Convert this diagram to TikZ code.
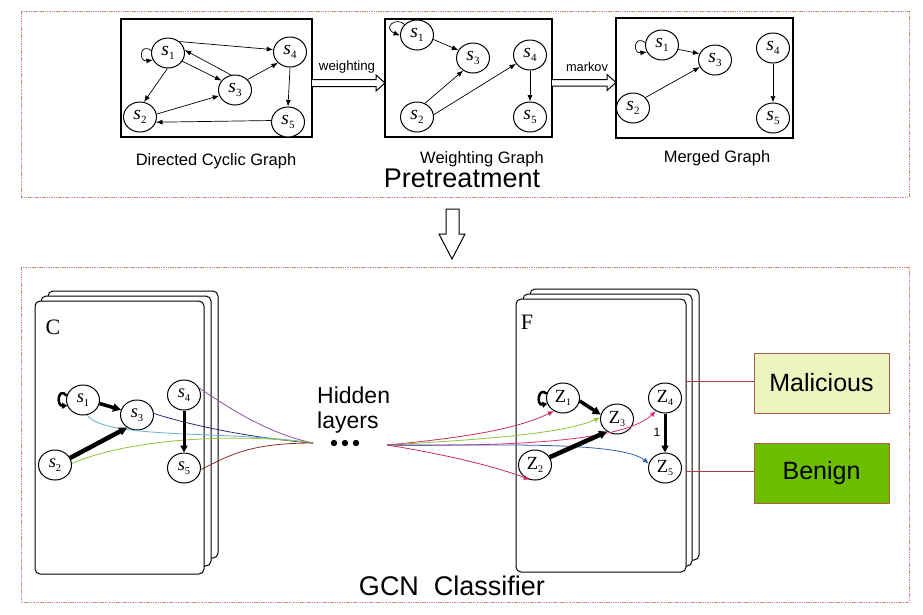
\documentclass[tikz,border=0pt]{standalone}
\usepackage{fontspec}
\setmainfont{Liberation Serif}
\newfontfamily\arial{Liberation Sans}
\usetikzlibrary{arrows.meta,shapes.geometric,calc}
\definecolor{panelc}{RGB}{205,130,125}
\definecolor{cpurple}{RGB}{140,80,170}
\definecolor{cnavy}{RGB}{45,45,120}
\definecolor{clblue}{RGB}{100,175,210}
\definecolor{cygreen}{RGB}{145,195,50}
\definecolor{cbrown}{RGB}{140,45,45}
\definecolor{ccrim}{RGB}{200,45,90}
\definecolor{cmag}{RGB}{225,45,120}
\definecolor{cblue}{RGB}{50,95,165}
\definecolor{malfill}{RGB}{236,245,192}
\definecolor{benfill}{RGB}{110,190,0}
\definecolor{bordc}{RGB}{170,95,70}
\definecolor{linkc}{RGB}{175,60,60}
\newcommand\sv[1]{\textit{s}\raisebox{-0.45ex}{\fontsize{11}{11}\selectfont #1}}
\newcommand\ssv[1]{\textit{s}\raisebox{-0.45ex}{\fontsize{10.5}{10.5}\selectfont #1}}
\newcommand\zv[1]{Z\raisebox{-0.45ex}{\fontsize{10}{10}\selectfont #1}}
\begin{document}
\begin{tikzpicture}[x=1pt,y=-1pt,
  panel/.style={draw=panelc,line width=0.8pt,dash pattern=on 1.5pt off 0.8pt},
  gbox/.style={draw=black,line width=1.2pt},
  gn/.style={ellipse,draw,line width=1pt,minimum width=33pt,minimum height=30pt,inner sep=0pt,fill=white,font=\fontsize{19.5}{19.5}\selectfont},
  ln/.style={ellipse,draw,line width=1pt,minimum width=33pt,minimum height=30pt,inner sep=0pt,fill=white,font=\fontsize{18.5}{18.5}\selectfont},
  arr/.style={-{Latex[length=6.5pt,width=5pt]},line width=0.7pt},
  thk/.style={-{Triangle[length=8pt,width=8pt]},line width=3.5pt},
  card/.style={draw,line width=1pt,rounded corners=5pt,fill=white},
  crv/.style={line width=0.8pt},
  carr/.style={line width=0.8pt,-{Latex[length=6pt,width=5pt]}},
  lbl/.style={font=\arial\fontsize{16.5}{16.5}\selectfont,anchor=base,inner sep=0pt},
  big/.style={font=\arial\fontsize{27}{27}\selectfont,anchor=base,inner sep=0pt},
  fat/.style={draw,line width=1pt,fill=white,line join=miter},
  cls/.style={draw=bordc,line width=1pt,minimum width=135pt,minimum height=60pt,font=\arial\fontsize{25}{25}\selectfont}
]
\useasboundingbox (0,0) rectangle (923,614);
\fill[white] (0,0) rectangle (923,614);

% panels
\draw[panel] (21,11) rectangle (909,197);
\draw[panel] (21,267) rectangle (909,602);

% ---------- Directed cyclic graph ----------
\draw[gbox] (121,19) rectangle (312,137);
\node[gn] (a1) at (168,53) {\sv1};
\node[gn] (a2) at (140,117) {\sv2};
\node[gn] (a3) at (235,90) {\sv3};
\node[gn] (a4) at (290,52) {\sv4};
\node[gn] (a5) at (288,122) {\sv5};
\draw[arr] (a1.45) -- (a4.172);
\draw[arr] (a1.-30) -- (a3.145);
\draw[arr] (a3.105) -- (a1.10);
\draw[arr] (a3.40) -- (a4.222);
\draw[arr] (a1.-92) -- (a2.75);
\draw[arr] (a2.10) -- (a3.200);
\draw[arr] (a4.south) -- (a5.north);
\draw[arr] (a5.175) -- (a2.-18);
\draw[arr] (a1.172) .. controls (140,42) and (138,62) .. (a1.205);
\node[lbl] (t1) at (216,165.5) {Directed Cyclic Graph};

% fat arrow weighting
\draw[fat] (312,79.5) -- (376,79.5) -- (376,75) -- (385,83) -- (376,91) -- (376,86.5) -- (312,86.5);
\node[font=\arial\fontsize{13.3}{13.3}\selectfont,anchor=base,inner sep=0pt] (w) at (347,70) {weighting};

% ---------- Weighting graph ----------
\draw[gbox] (385,19) rectangle (552,137);
\node[gn] (b1) at (417,35) {\sv1};
\node[gn] (b3) at (473,58) {\sv3};
\node[gn] (b4) at (530,55) {\sv4};
\node[gn] (b2) at (417,117) {\sv2};
\node[gn] (b5) at (530,117) {\sv5};
\draw[arr] (b1.-15) -- (b3.152);
\draw[arr] (b2.60) -- (b3.232);
\draw[arr] (b2.8) -- (b4.212);
\draw[arr] (b4.south) -- (b5.north);
\draw[arr] (b1.140) .. controls (396,16) and (382,28) .. (b1.182);
\node[lbl] (t2) at (482,163) {Weighting Graph};

% fat arrow markov
\draw[fat] (552,79.5) -- (607,79.5) -- (607,74.5) -- (616,82.5) -- (607,90.5) -- (607,86) -- (552,86);
\node[font=\arial\fontsize{12.8}{12.8}\selectfont,anchor=base,inner sep=0pt] (m) at (587,71.5) {markov};

% ---------- Merged graph ----------
\draw[gbox] (616,18) rectangle (793,138);
\node[gn] (c1) at (662,45) {\sv1};
\node[gn] (c3) at (715,60) {\sv3};
\node[gn] (c2) at (633,108) {\sv2};
\node[gn] (c4) at (773,48) {\sv4};
\node[gn] (c5) at (773,118) {\sv5};
\draw[arr] (c1.-15) -- (c3.158);
\draw[arr] (c2.40) -- (c3.205);
\draw[arr] (c4.south) -- (c5.north);
\draw[arr] (c1.172) .. controls (634,34) and (632,54) .. (c1.205);
\node[lbl] (t3) at (717,162) {Merged Graph};

\node[big] (pre) at (462,187) {Pretreatment};

% down arrow
\draw[fat] (446,209) -- (459,209) -- (459,234) -- (465,234) -- (452,259) -- (439,234) -- (446,234) -- cycle;

% ---------- C cards ----------
\draw[card] (48,291) rectangle (218,558);
\draw[card] (41,296) rectangle (211,566);
\draw[card] (35,301) rectangle (204,574);
\node[font=\fontsize{22}{22}\selectfont,inner sep=0pt] (C) at (53,327) {C};
\node[ln] (l1) at (83,400) {\ssv1};
\node[ln] (l3) at (137,415) {\ssv3};
\node[ln] (l4) at (184,395) {\ssv4};
\node[ln] (l2) at (55,465) {\ssv2};
\node[ln] (l5) at (184,468) {\ssv5};

\coordinate (P) at (313,443);
\draw[crv,cpurple] (l4.25) .. controls (225,405) and (265,433) .. (P);
\draw[crv,cnavy] (l3.5) .. controls (190,425) and (250,438) .. (P);
\draw[crv,clblue] (l1.-75) .. controls (105,440) and (230,430) .. (P);
\draw[crv,cygreen] (l2.5) .. controls (125,440) and (230,432) .. (P);
\draw[crv,cbrown] (l5.-5) .. controls (230,455) and (250,443) .. (P);

\draw[thk] (l1.-12) -- (l3.162);
\draw[-{Triangle[length=8pt,width=8pt]},line width=4.5pt] (l2.25) -- (l3.232);
\draw[-{Triangle[length=7pt,width=7pt]},line width=3pt] (l4.south) -- (l5.north);
\draw[-{Triangle[length=5pt,width=6pt]},line width=2.5pt] (l1.165) .. controls (58,386) and (56,406) .. (l1.200);

% hidden layers
\node[font=\arial\fontsize{23}{23}\selectfont,anchor=base west,inner sep=0pt] (h1) at (317,403) {Hidden};
\node[font=\arial\fontsize{23}{23}\selectfont,anchor=base west,inner sep=0pt] (h2) at (317,428) {layers};
\fill (334,443) circle (3.2) (345,443) circle (3.2) (356,443) circle (3.2);

% ---------- F cards ----------
\draw[card] (530,289) rectangle (699,560);
\draw[card] (523,294) rectangle (692,566);
\draw[card] (516,299) rectangle (686,572);
\node[font=\fontsize{22}{22}\selectfont,inner sep=0pt] (F) at (527,322) {F};
\node[ln] (z1) at (563,398) {\zv1};
\node[ln] (z3) at (617,419) {\zv3};
\node[ln] (z4) at (665,398) {\zv4};
\node[ln] (z2) at (535,465) {\zv2};
\node[ln] (z5) at (665,468) {\zv5};

\coordinate (Q) at (387,445);
\draw[carr,ccrim] (Q) .. controls (460,438) and (515,430) .. (z1.235);
\draw[carr,cygreen] (Q) .. controls (470,440) and (560,435) .. (z3.175);
\draw[carr,cmag] (Q) .. controls (480,446) and (620,445) .. (z4.235);
\draw[carr,cblue] (Q) .. controls (480,446) and (620,440) .. (z5.165);
\draw[carr,ccrim] (Q) .. controls (450,455) and (500,468) .. (z2.250);

\draw[thk] (z1.-10) -- (z3.165);
\draw[-{Triangle[length=8pt,width=8pt]},line width=4.5pt] (z2.28) -- (z3.232);
\draw[-{Triangle[length=7pt,width=7pt]},line width=3pt] (z4.south) -- (z5.north);
\draw[-{Triangle[length=5pt,width=6pt]},line width=2.5pt] (z1.165) .. controls (538,386) and (536,406) .. (z1.200);
\node[font=\arial\fontsize{12}{12}\selectfont,inner sep=0pt] (one) at (657,432) {1};

% classes
\node[cls,fill=malfill] (mal) at (821.5,383) {Malicious};
\node[cls,fill=benfill] (ben) at (821.5,473) {Benign};
\coordinate (m0) at (686,381);
\coordinate (b0) at (686,471);
\draw[linkc,line width=0.8pt] (m0) -- (m0 -| mal.west);
\draw[linkc,line width=0.8pt] (b0) -- (b0 -| ben.west);

\node[big] (gcn) at (452,595) {GCN\ \ Classifier};
\end{tikzpicture}
\end{document}
